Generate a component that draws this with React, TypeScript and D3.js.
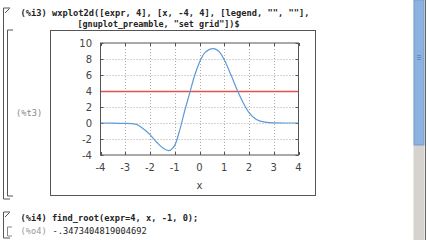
import React from 'react';
import * as d3 from 'd3';

const curveX = [-4, -3.5, -3, -2.6, -2.3, -2, -1.7, -1.45, -1.25, -1.07, -1, -0.8, -0.6, -0.4, -0.2, 0, 0.22, 0.55, 0.85, 1, 1.3, 1.54, 1.77, 2, 2.3, 2.65, 3, 3.5, 4];
const curveY = [0, -0.01, -0.05, -0.15, -0.65, -1.45, -2.5, -3.2, -3.45, -3.1, -2.8, -0.9, 1.5, 3.7, 5.9, 7.6, 8.8, 9.3, 8.7, 7.9, 5.8, 4.0, 2.5, 1.3, 0.45, 0.1, 0.01, 0, 0];
const hLineValue = 4;
const xTicks = [-4, -3, -2, -1, 0, 1, 2, 3, 4];
const yTicks = [-4, -2, 0, 2, 4, 6, 8, 10];
const xLabel = 'x';
const inputLine1 = '(%i3) wxplot2d([expr, 4], [x, -4, 4], [legend, "", ""],';
const inputLine2 = '[gnuplot_preamble, "set grid"])$';
const outLabel1 = '(%t3)';
const inputLine3 = '(%i4) find_root(expr=4, x, -1, 0);';
const outLabel2 = '(%o4)';
const outValue2 = '-.3473404819004692';

export default function App() {
  const x = d3.scaleLinear().domain([-4, 4]).range([100.5, 298.5]);
  const y = d3.scaleLinear().domain([-4, 10]).range([155, 43]);
  const pts: [number, number][] = curveX.map((v, i) => [v, curveY[i]]);
  const line = d3
    .line<[number, number]>()
    .x((d) => x(d[0]))
    .y((d) => y(d[1]))
    .curve(d3.curveMonotoneX);
  const mono = '"DejaVu Sans Mono", monospace';
  const sans = '"DejaVu Sans", sans-serif';
  const [x0, x1] = x.range();
  const [y0, y1] = y.range();
  const redY = Math.round(y(hLineValue)) + 0.5;
  const hline = d3.line<number>().x((d) => x(d)).y(() => redY);
  return (
    <svg width={427} height={240} style={{ position: 'absolute', left: 0, top: 0, background: '#fff' }}>
      <rect x={0} y={0} width={427} height={240} fill="#fff" />
      {/* cell brackets */}
      <g stroke="#555" fill="none" strokeWidth={1}>
        <path d="M3.5,8 L10,8 M3.5,8 L3.5,199 L10,199 M5,13 L9.5,8.5" />
        <path d="M7.5,30 L13,30 M7.5,30 L7.5,196 L13,196" />
        <path d="M3.5,212 L10,212 M3.5,212 L3.5,238 L10,238 M5,217 L9.5,212.5" />
        <path d="M7.5,227 L12,227 M7.5,227 L7.5,236 L12,236" stroke="#888" />
      </g>
      {/* input text */}
      <g fontFamily={mono} fontWeight="bold" fontSize={8.7} fill="#222">
        <text x={20.5} y={15.5} textLength={289} lengthAdjust="spacingAndGlyphs">{inputLine1}</text>
        <text x={77.5} y={26.5} textLength={162} lengthAdjust="spacingAndGlyphs">{inputLine2}</text>
        <text x={20.5} y={220.5}>{inputLine3}</text>
      </g>
      <text x={16} y={116} fontFamily={mono} fontSize={8.7} fill="#888">{outLabel1}</text>
      <text x={20.5} y={234} fontFamily={mono} fontSize={8.7} fill="#999">{outLabel2}</text>
      <text x={52.5} y={234} fontFamily={mono} fontSize={8.7} fill="#222">{outValue2}</text>
      {/* plot image frame */}
      <rect x={50.5} y={30.5} width={265} height={165} fill="#fff" stroke="#555" />
      {/* grid */}
      <g stroke="#aaa" strokeDasharray="1,2" strokeWidth={1}>
        {xTicks.slice(1, -1).map((t) => (
          <line key={'gx' + t} x1={Math.round(x(t)) + 0.5} x2={Math.round(x(t)) + 0.5} y1={y1} y2={y0} />
        ))}
        {yTicks.slice(1, -1).filter((t) => t !== hLineValue).map((t) => (
          <line key={'gy' + t} x1={x0} x2={x1} y1={Math.round(y(t)) + 0.5} y2={Math.round(y(t)) + 0.5} />
        ))}
      </g>
      {/* ticks */}
      <g stroke="#555">
        {xTicks.map((t) => (
          <g key={'tx' + t}>
            <line x1={Math.round(x(t)) + 0.5} x2={Math.round(x(t)) + 0.5} y1={y0} y2={y0 - 3} />
            <line x1={Math.round(x(t)) + 0.5} x2={Math.round(x(t)) + 0.5} y1={y1} y2={y1 + 3} />
          </g>
        ))}
        {yTicks.map((t) => (
          <g key={'ty' + t}>
            <line x1={x0} x2={x0 + 3} y1={Math.round(y(t)) + 0.5} y2={Math.round(y(t)) + 0.5} />
            <line x1={x1} x2={x1 - 3} y1={Math.round(y(t)) + 0.5} y2={Math.round(y(t)) + 0.5} />
          </g>
        ))}
      </g>
      {/* data */}
      <path d={hline([-4, 4]) || ''} fill="none" stroke="rgb(228,80,80)" strokeWidth={1.3} />
      <path d={line(pts) || ''} fill="none" stroke="#5b9bd8" strokeWidth={1.2} />
      {/* border */}
      <rect x={x0} y={y1} width={x1 - x0} height={y0 - y1} fill="none" stroke="#555" />
      {/* tick labels */}
      <g fontFamily={sans} fontSize={10} fill="#444">
        {yTicks.map((t) => (
          <text key={'ly' + t} x={92} y={y(t) + 3.5} textAnchor="end">{t}</text>
        ))}
        {xTicks.map((t) => (
          <text key={'lx' + t} x={x(t)} y={171} textAnchor="middle">{t}</text>
        ))}
        <text x={x(0)} y={189} textAnchor="middle">{xLabel}</text>
      </g>
      {/* scrollbar */}
      <rect x={413.5} y={0} width={11} height={240} fill="#d6d3ce" />
      <rect x={414} y={0} width={10} height={145} fill="#8cb2e2" stroke="#6f95c8" strokeWidth={0.8} />
      <g stroke="#5f82b0" strokeWidth={0.8}>
        <line x1={417} x2={421} y1={55.5} y2={55.5} />
        <line x1={417} x2={421} y1={57.5} y2={57.5} />
        <line x1={417} x2={421} y1={59.5} y2={59.5} />
      </g>
      <line x1={425.5} x2={425.5} y1={0} y2={240} stroke="#666" />
    </svg>
  );
}
